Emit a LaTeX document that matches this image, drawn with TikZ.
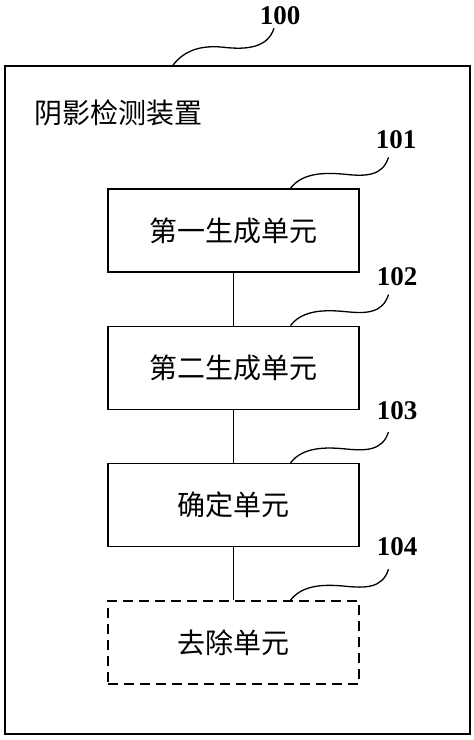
\documentclass[tikz,border=0pt]{standalone}
\usepackage{fontspec}
\setmainfont{Liberation Serif}
\newfontfamily\cjk{Noto Sans CJK SC}
\usetikzlibrary
  {
    positioning, % place nodes relative to other nodes
    calc,        % offsets of the leader lines
  }

\begin{document}
\begin{tikzpicture}[x=1pt,y=1pt,
    unit/.style={draw,line width=1.3pt,minimum width=251pt,minimum height=83pt,
      inner sep=0pt,font=\cjk\fontsize{28}{28}\selectfont},
    refnum/.style={inner sep=0pt,font=\bfseries\fontsize{27}{27}\selectfont},
    leader/.style={line width=1.3pt},
  ]
    \useasboundingbox (0,0) rectangle (474,740);

    % the device and its units
    \node [draw,line width=1.6pt,minimum width=465pt,minimum height=668pt,inner sep=0pt]
      (device) at (237.5,340) {};
    \node [anchor=west,inner sep=0pt,font=\cjk\fontsize{28}{28}\selectfont]
      (title) at (34,627) {阴影检测装置};

    \node [unit] (u1) at (233.5,509.5) {第一生成单元};
    \node [unit,below=53pt of u1] (u2) {第二生成单元};
    \node [unit,below=53pt of u2] (u3) {确定单元};
    \node [unit,dashed,dash pattern=on 10pt off 6pt,below=53pt of u3] (u4) {去除单元};

    \draw [line width=1.3pt] (u1) -- (u2);
    \draw [line width=1.3pt] (u2) -- (u3);
    \draw [line width=1.3pt] (u3) -- (u4);

    % reference numerals
    \node [refnum] (lbl100) at (280,724) {100};
    \node [refnum] (lbl101) at (396,600) {101};
    \node [refnum] (lbl102) at (397,463) {102};
    \node [refnum] (lbl103) at (397,329) {103};
    \node [refnum] (lbl104) at (397,193) {104};

    % leader lines
    \coordinate (s0) at ($(device.north)+(-64.5,0)$);
    \coordinate (e0) at ($(s0)+(101,37)$);
    \draw [leader] (s0) .. controls ($(s0)+(12,16)$) and ($(s0)+(30,20)$) .. ($(s0)+(50,18)$)
      .. controls ($(s0)+(75,15)$) and ($(s0)+(95,18)$) .. (e0);

    \foreach \n in {1,2,3,4}
    {
      \coordinate (s\n) at ($(u\n.north)+(57,0)$);
      \coordinate (e\n) at ($(s\n)+(98,31)$);
      \draw [leader] (s\n) .. controls ($(s\n)+(12,16)$) and ($(s\n)+(35,16)$) .. ($(s\n)+(55,14)$)
        .. controls ($(s\n)+(75,12)$) and ($(s\n)+(92,12)$) .. (e\n);
    }
  \end{tikzpicture}
\end{document}
